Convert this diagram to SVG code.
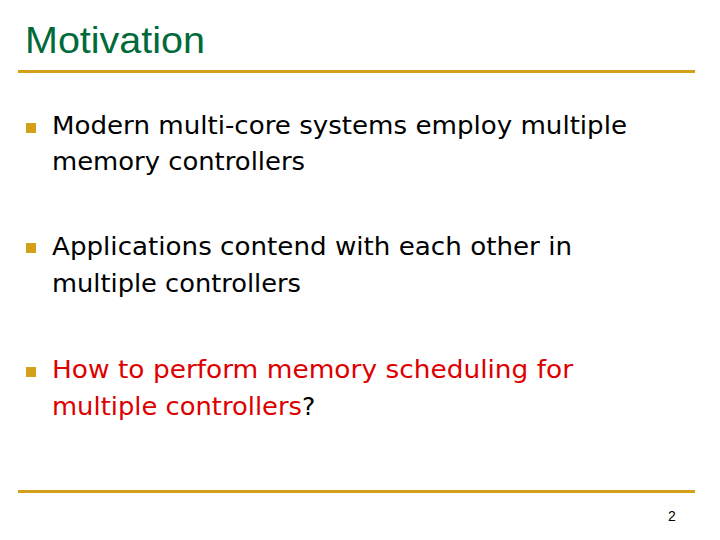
<svg xmlns="http://www.w3.org/2000/svg" width="720" height="540" viewBox="0 0 720 540">
<style>
.t{font-family:"DejaVu Sans",Verdana,sans-serif;font-size:25px;fill:#000}
.r{fill:#dd0000}
.b{fill:#d4a017}
</style>
<rect width="720" height="540" fill="#fff"/>
<text x="25" y="53" font-family="Liberation Sans,Arial,sans-serif" font-size="36" fill="#006a3a" textLength="180" lengthAdjust="spacingAndGlyphs">Motivation</text>
<rect x="18" y="70" width="677" height="3" fill="#d4a017"/>
<rect x="18" y="490" width="677" height="3" fill="#d4a017"/>
<g id="b1"><rect class="b" x="26" y="123" width="10" height="10"/>
<text class="t" x="52" y="134" textLength="575" lengthAdjust="spacingAndGlyphs">Modern multi-core systems employ multiple</text>
<text class="t" x="52" y="170" textLength="253" lengthAdjust="spacingAndGlyphs">memory controllers</text></g>
<g id="b2"><rect class="b" x="26" y="243" width="10" height="10"/>
<text class="t" x="52" y="255" textLength="520" lengthAdjust="spacingAndGlyphs">Applications contend with each other in</text>
<text class="t" x="52" y="292" textLength="249" lengthAdjust="spacingAndGlyphs">multiple controllers</text></g>
<g id="b3"><rect class="b" x="26" y="367" width="10" height="10"/>
<text class="t r" x="52" y="378" textLength="521" lengthAdjust="spacingAndGlyphs">How to perform memory scheduling for</text>
<text class="t r" x="52" y="415" textLength="250" lengthAdjust="spacingAndGlyphs">multiple controllers</text><text class="t" x="302" y="415">?</text></g>
<text x="668" y="521" font-family="Liberation Sans,Arial,sans-serif" font-size="14">2</text>
</svg>
